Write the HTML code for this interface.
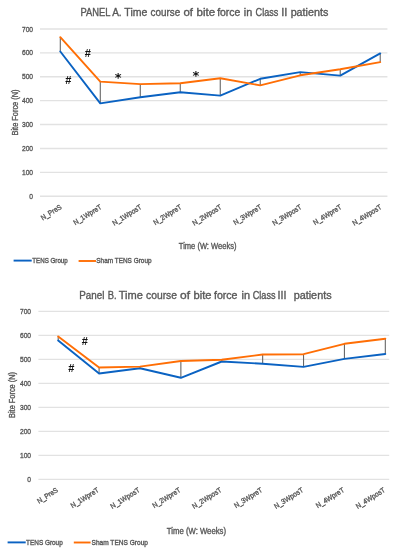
<!DOCTYPE html>
<html><head><meta charset="utf-8"><title>Bite force</title>
<style>
html,body{margin:0;padding:0;background:#fff;width:399px;height:550px;overflow:hidden}
svg{display:block}
text{font-family:"Liberation Sans",Arial,sans-serif;fill:#595959;stroke:#595959;stroke-width:0.35px;white-space:pre}
.title{font-size:10.3px}
.tick{font-size:7.8px}
.cat{font-size:7.2px}
.ax{font-size:8.2px}
.leg{font-size:6.6px}
.mark{font-size:11px;font-weight:bold;fill:#111;stroke:none}
.star{font-family:"DejaVu Sans",sans-serif;font-size:13px;font-weight:bold;fill:#111;stroke:none}
</style></head><body>
<svg width="399" height="550" viewBox="0 0 399 550">
<rect width="399" height="550" fill="#fff"/>
<line x1="40" y1="196.30" x2="387.4" y2="196.30" stroke="#E2E2E2" stroke-width="1.4"/>
<line x1="40" y1="172.39" x2="387.4" y2="172.39" stroke="#E2E2E2" stroke-width="1.4"/>
<line x1="40" y1="148.48" x2="387.4" y2="148.48" stroke="#E2E2E2" stroke-width="1.4"/>
<line x1="40" y1="124.57" x2="387.4" y2="124.57" stroke="#E2E2E2" stroke-width="1.4"/>
<line x1="40" y1="100.66" x2="387.4" y2="100.66" stroke="#E2E2E2" stroke-width="1.4"/>
<line x1="40" y1="76.75" x2="387.4" y2="76.75" stroke="#E2E2E2" stroke-width="1.4"/>
<line x1="40" y1="52.84" x2="387.4" y2="52.84" stroke="#E2E2E2" stroke-width="1.4"/>
<line x1="40" y1="28.93" x2="387.4" y2="28.93" stroke="#E2E2E2" stroke-width="1.4"/>
<text transform="translate(33.1,198.90) scale(0.86,1)" text-anchor="end" class="tick">0</text>
<text transform="translate(33.1,174.99) scale(0.86,1)" text-anchor="end" class="tick">100</text>
<text transform="translate(33.1,151.08) scale(0.86,1)" text-anchor="end" class="tick">200</text>
<text transform="translate(33.1,127.17) scale(0.86,1)" text-anchor="end" class="tick">300</text>
<text transform="translate(33.1,103.26) scale(0.86,1)" text-anchor="end" class="tick">400</text>
<text transform="translate(33.1,79.35) scale(0.86,1)" text-anchor="end" class="tick">500</text>
<text transform="translate(33.1,55.44) scale(0.86,1)" text-anchor="end" class="tick">600</text>
<text transform="translate(33.1,31.53) scale(0.86,1)" text-anchor="end" class="tick">700</text>
<line x1="60.30" y1="37.2" x2="60.30" y2="51.5" stroke="#666666" stroke-width="1.1"/>
<line x1="100.29" y1="81.6" x2="100.29" y2="103.4" stroke="#666666" stroke-width="1.1"/>
<line x1="140.28" y1="84.1" x2="140.28" y2="97.3" stroke="#666666" stroke-width="1.1"/>
<line x1="180.27" y1="83.2" x2="180.27" y2="92.3" stroke="#666666" stroke-width="1.1"/>
<line x1="220.26" y1="78.3" x2="220.26" y2="95.6" stroke="#666666" stroke-width="1.1"/>
<line x1="260.25" y1="85.4" x2="260.25" y2="78.8" stroke="#666666" stroke-width="1.1"/>
<line x1="300.24" y1="75.3" x2="300.24" y2="72.1" stroke="#666666" stroke-width="1.1"/>
<line x1="340.23" y1="69.3" x2="340.23" y2="75.6" stroke="#666666" stroke-width="1.1"/>
<line x1="380.22" y1="62.1" x2="380.22" y2="53.4" stroke="#666666" stroke-width="1.1"/>
<polyline points="60.30,51.5 100.29,103.4 140.28,97.3 180.27,92.3 220.26,95.6 260.25,78.8 300.24,72.1 340.23,75.6 380.22,53.4" fill="none" stroke="#0A62C2" stroke-width="1.9" stroke-linejoin="round" stroke-linecap="round"/>
<polyline points="60.30,37.2 100.29,81.6 140.28,84.1 180.27,83.2 220.26,78.3 260.25,85.4 300.24,75.3 340.23,69.3 380.22,62.1" fill="none" stroke="#FF6E05" stroke-width="1.9" stroke-linejoin="round" stroke-linecap="round"/>
<text transform="translate(62.30,208.30) rotate(-32) scale(0.92,1)" text-anchor="end" class="cat">N_PreS</text>
<text transform="translate(102.29,208.30) rotate(-32) scale(0.92,1)" text-anchor="end" class="cat">N_1WpreT</text>
<text transform="translate(142.28,208.30) rotate(-32) scale(0.92,1)" text-anchor="end" class="cat">N_1WposT</text>
<text transform="translate(182.27,208.30) rotate(-32) scale(0.92,1)" text-anchor="end" class="cat">N_2WpreT</text>
<text transform="translate(222.26,208.30) rotate(-32) scale(0.92,1)" text-anchor="end" class="cat">N_2WposT</text>
<text transform="translate(262.25,208.30) rotate(-32) scale(0.92,1)" text-anchor="end" class="cat">N_3WpreT</text>
<text transform="translate(302.24,208.30) rotate(-32) scale(0.92,1)" text-anchor="end" class="cat">N_3WposT</text>
<text transform="translate(342.23,208.30) rotate(-32) scale(0.92,1)" text-anchor="end" class="cat">N_4WpreT</text>
<text transform="translate(382.22,208.30) rotate(-32) scale(0.92,1)" text-anchor="end" class="cat">N_4WposT</text>
<text y="15.6" class="title" style="font-size:10.3px"><tspan x="80.56" textLength="29.56" lengthAdjust="spacingAndGlyphs">PANEL</tspan> <tspan x="112.14" textLength="9.51" lengthAdjust="spacingAndGlyphs">A.</tspan> <tspan x="124.39" textLength="22.96" lengthAdjust="spacingAndGlyphs">Time</tspan> <tspan x="150.57" textLength="29.63" lengthAdjust="spacingAndGlyphs">course</tspan> <tspan x="183.57" textLength="9.45" lengthAdjust="spacingAndGlyphs">of</tspan> <tspan x="196.60" textLength="18.59" lengthAdjust="spacingAndGlyphs">bite</tspan> <tspan x="217.15" textLength="23.25" lengthAdjust="spacingAndGlyphs">force</tspan> <tspan x="243.80" textLength="8.48" lengthAdjust="spacingAndGlyphs">in</tspan> <tspan x="255.61" textLength="22.77" lengthAdjust="spacingAndGlyphs">Class</tspan> <tspan x="281.25" textLength="6.17" lengthAdjust="spacingAndGlyphs">II</tspan> <tspan x="290.65" textLength="37.68" lengthAdjust="spacingAndGlyphs">patients</tspan></text>
<text transform="translate(17.5,112.5) rotate(-90)" text-anchor="middle" class="ax" textLength="46" lengthAdjust="spacingAndGlyphs">Bite Force (N)</text>
<text x="178.85" y="249" class="ax" style="font-size:8.2px" textLength="57.60" lengthAdjust="spacingAndGlyphs">Time (W: Weeks)</text>
<line x1="13.6" y1="260.6" x2="31.7" y2="260.6" stroke="#0A62C2" stroke-width="1.9"/>
<line x1="78.6" y1="261" x2="96" y2="261" stroke="#FF6E05" stroke-width="1.9"/>
<text x="32.27" y="263" class="leg" style="font-size:6.6px" textLength="35.47" lengthAdjust="spacingAndGlyphs">TENS Group</text>
<text x="96.31" y="263" class="leg" style="font-size:6.6px" textLength="55.27" lengthAdjust="spacingAndGlyphs">Sham TENS Group</text>
<text x="87.7" y="56.7" text-anchor="middle" class="mark">#</text>
<text x="68.2" y="84.3" text-anchor="middle" class="mark">#</text>
<text x="118.1" y="82.1" text-anchor="middle" class="star">*</text>
<text x="196" y="80" text-anchor="middle" class="star">*</text>
<line x1="38.4" y1="479.40" x2="389.2" y2="479.40" stroke="#E2E2E2" stroke-width="1.4"/>
<line x1="38.4" y1="455.40" x2="389.2" y2="455.40" stroke="#E2E2E2" stroke-width="1.4"/>
<line x1="38.4" y1="431.40" x2="389.2" y2="431.40" stroke="#E2E2E2" stroke-width="1.4"/>
<line x1="38.4" y1="407.40" x2="389.2" y2="407.40" stroke="#E2E2E2" stroke-width="1.4"/>
<line x1="38.4" y1="383.40" x2="389.2" y2="383.40" stroke="#E2E2E2" stroke-width="1.4"/>
<line x1="38.4" y1="359.40" x2="389.2" y2="359.40" stroke="#E2E2E2" stroke-width="1.4"/>
<line x1="38.4" y1="335.40" x2="389.2" y2="335.40" stroke="#E2E2E2" stroke-width="1.4"/>
<line x1="38.4" y1="311.40" x2="389.2" y2="311.40" stroke="#E2E2E2" stroke-width="1.4"/>
<text transform="translate(31.1,482.00) scale(0.86,1)" text-anchor="end" class="tick">0</text>
<text transform="translate(31.1,458.00) scale(0.86,1)" text-anchor="end" class="tick">100</text>
<text transform="translate(31.1,434.00) scale(0.86,1)" text-anchor="end" class="tick">200</text>
<text transform="translate(31.1,410.00) scale(0.86,1)" text-anchor="end" class="tick">300</text>
<text transform="translate(31.1,386.00) scale(0.86,1)" text-anchor="end" class="tick">400</text>
<text transform="translate(31.1,362.00) scale(0.86,1)" text-anchor="end" class="tick">500</text>
<text transform="translate(31.1,338.00) scale(0.86,1)" text-anchor="end" class="tick">600</text>
<text transform="translate(31.1,314.00) scale(0.86,1)" text-anchor="end" class="tick">700</text>
<line x1="58.20" y1="336.4" x2="58.20" y2="340.6" stroke="#666666" stroke-width="1.1"/>
<line x1="99.09" y1="367.5" x2="99.09" y2="373.5" stroke="#666666" stroke-width="1.1"/>
<line x1="139.98" y1="366.6" x2="139.98" y2="368.3" stroke="#666666" stroke-width="1.1"/>
<line x1="180.87" y1="361.0" x2="180.87" y2="377.8" stroke="#666666" stroke-width="1.1"/>
<line x1="221.76" y1="359.7" x2="221.76" y2="361.5" stroke="#666666" stroke-width="1.1"/>
<line x1="262.65" y1="354.5" x2="262.65" y2="363.7" stroke="#666666" stroke-width="1.1"/>
<line x1="303.54" y1="354.2" x2="303.54" y2="366.9" stroke="#666666" stroke-width="1.1"/>
<line x1="344.43" y1="343.8" x2="344.43" y2="358.9" stroke="#666666" stroke-width="1.1"/>
<line x1="385.32" y1="338.7" x2="385.32" y2="354.0" stroke="#666666" stroke-width="1.1"/>
<polyline points="58.20,340.6 99.09,373.5 139.98,368.3 180.87,377.8 221.76,361.5 262.65,363.7 303.54,366.9 344.43,358.9 385.32,354.0" fill="none" stroke="#0A62C2" stroke-width="1.9" stroke-linejoin="round" stroke-linecap="round"/>
<polyline points="58.20,336.4 99.09,367.5 139.98,366.6 180.87,361.0 221.76,359.7 262.65,354.5 303.54,354.2 344.43,343.8 385.32,338.7" fill="none" stroke="#FF6E05" stroke-width="1.9" stroke-linejoin="round" stroke-linecap="round"/>
<text transform="translate(58.60,491.40) rotate(-32) scale(0.92,1)" text-anchor="end" class="cat">N_PreS</text>
<text transform="translate(99.49,491.40) rotate(-32) scale(0.92,1)" text-anchor="end" class="cat">N_1WpreT</text>
<text transform="translate(140.38,491.40) rotate(-32) scale(0.92,1)" text-anchor="end" class="cat">N_1WposT</text>
<text transform="translate(181.27,491.40) rotate(-32) scale(0.92,1)" text-anchor="end" class="cat">N_2WpreT</text>
<text transform="translate(222.16,491.40) rotate(-32) scale(0.92,1)" text-anchor="end" class="cat">N_2WposT</text>
<text transform="translate(263.05,491.40) rotate(-32) scale(0.92,1)" text-anchor="end" class="cat">N_3WpreT</text>
<text transform="translate(303.94,491.40) rotate(-32) scale(0.92,1)" text-anchor="end" class="cat">N_3WposT</text>
<text transform="translate(344.83,491.40) rotate(-32) scale(0.92,1)" text-anchor="end" class="cat">N_4WpreT</text>
<text transform="translate(385.72,491.40) rotate(-32) scale(0.92,1)" text-anchor="end" class="cat">N_4WposT</text>
<text y="298.9" class="title" style="font-size:10.3px"><tspan x="79.22" textLength="25.13" lengthAdjust="spacingAndGlyphs">Panel</tspan> <tspan x="107.76" textLength="8.89" lengthAdjust="spacingAndGlyphs">B.</tspan> <tspan x="118.78" textLength="24.18" lengthAdjust="spacingAndGlyphs">Time</tspan> <tspan x="146.06" textLength="30.96" lengthAdjust="spacingAndGlyphs">course</tspan> <tspan x="180.05" textLength="9.97" lengthAdjust="spacingAndGlyphs">of</tspan> <tspan x="193.50" textLength="17.97" lengthAdjust="spacingAndGlyphs">bite</tspan> <tspan x="213.94" textLength="23.56" lengthAdjust="spacingAndGlyphs">force</tspan> <tspan x="241.50" textLength="8.48" lengthAdjust="spacingAndGlyphs">in</tspan> <tspan x="252.70" textLength="22.87" lengthAdjust="spacingAndGlyphs">Class</tspan> <tspan x="277.56" textLength="8.96" lengthAdjust="spacingAndGlyphs">III</tspan> <tspan x="293.65" textLength="37.98" lengthAdjust="spacingAndGlyphs">patients</tspan></text>
<text transform="translate(15.0,395) rotate(-90)" text-anchor="middle" class="ax" textLength="46" lengthAdjust="spacingAndGlyphs">Bite Force (N)</text>
<text x="166.84" y="533.8" class="ax" style="font-size:8.2px" textLength="59.22" lengthAdjust="spacingAndGlyphs">Time (W: Weeks)</text>
<line x1="7.6" y1="542.4" x2="25.7" y2="542.4" stroke="#0A62C2" stroke-width="1.9"/>
<line x1="73.8" y1="542.5" x2="90.6" y2="542.5" stroke="#FF6E05" stroke-width="1.9"/>
<text x="26.07" y="544.6" class="leg" style="font-size:6.6px" textLength="36.68" lengthAdjust="spacingAndGlyphs">TENS Group</text>
<text x="91.50" y="544.6" class="leg" style="font-size:6.6px" textLength="56.49" lengthAdjust="spacingAndGlyphs">Sham TENS Group</text>
<text x="84.8" y="344.9" text-anchor="middle" class="mark">#</text>
<text x="71.4" y="372" text-anchor="middle" class="mark">#</text>
</svg>
</body></html>
